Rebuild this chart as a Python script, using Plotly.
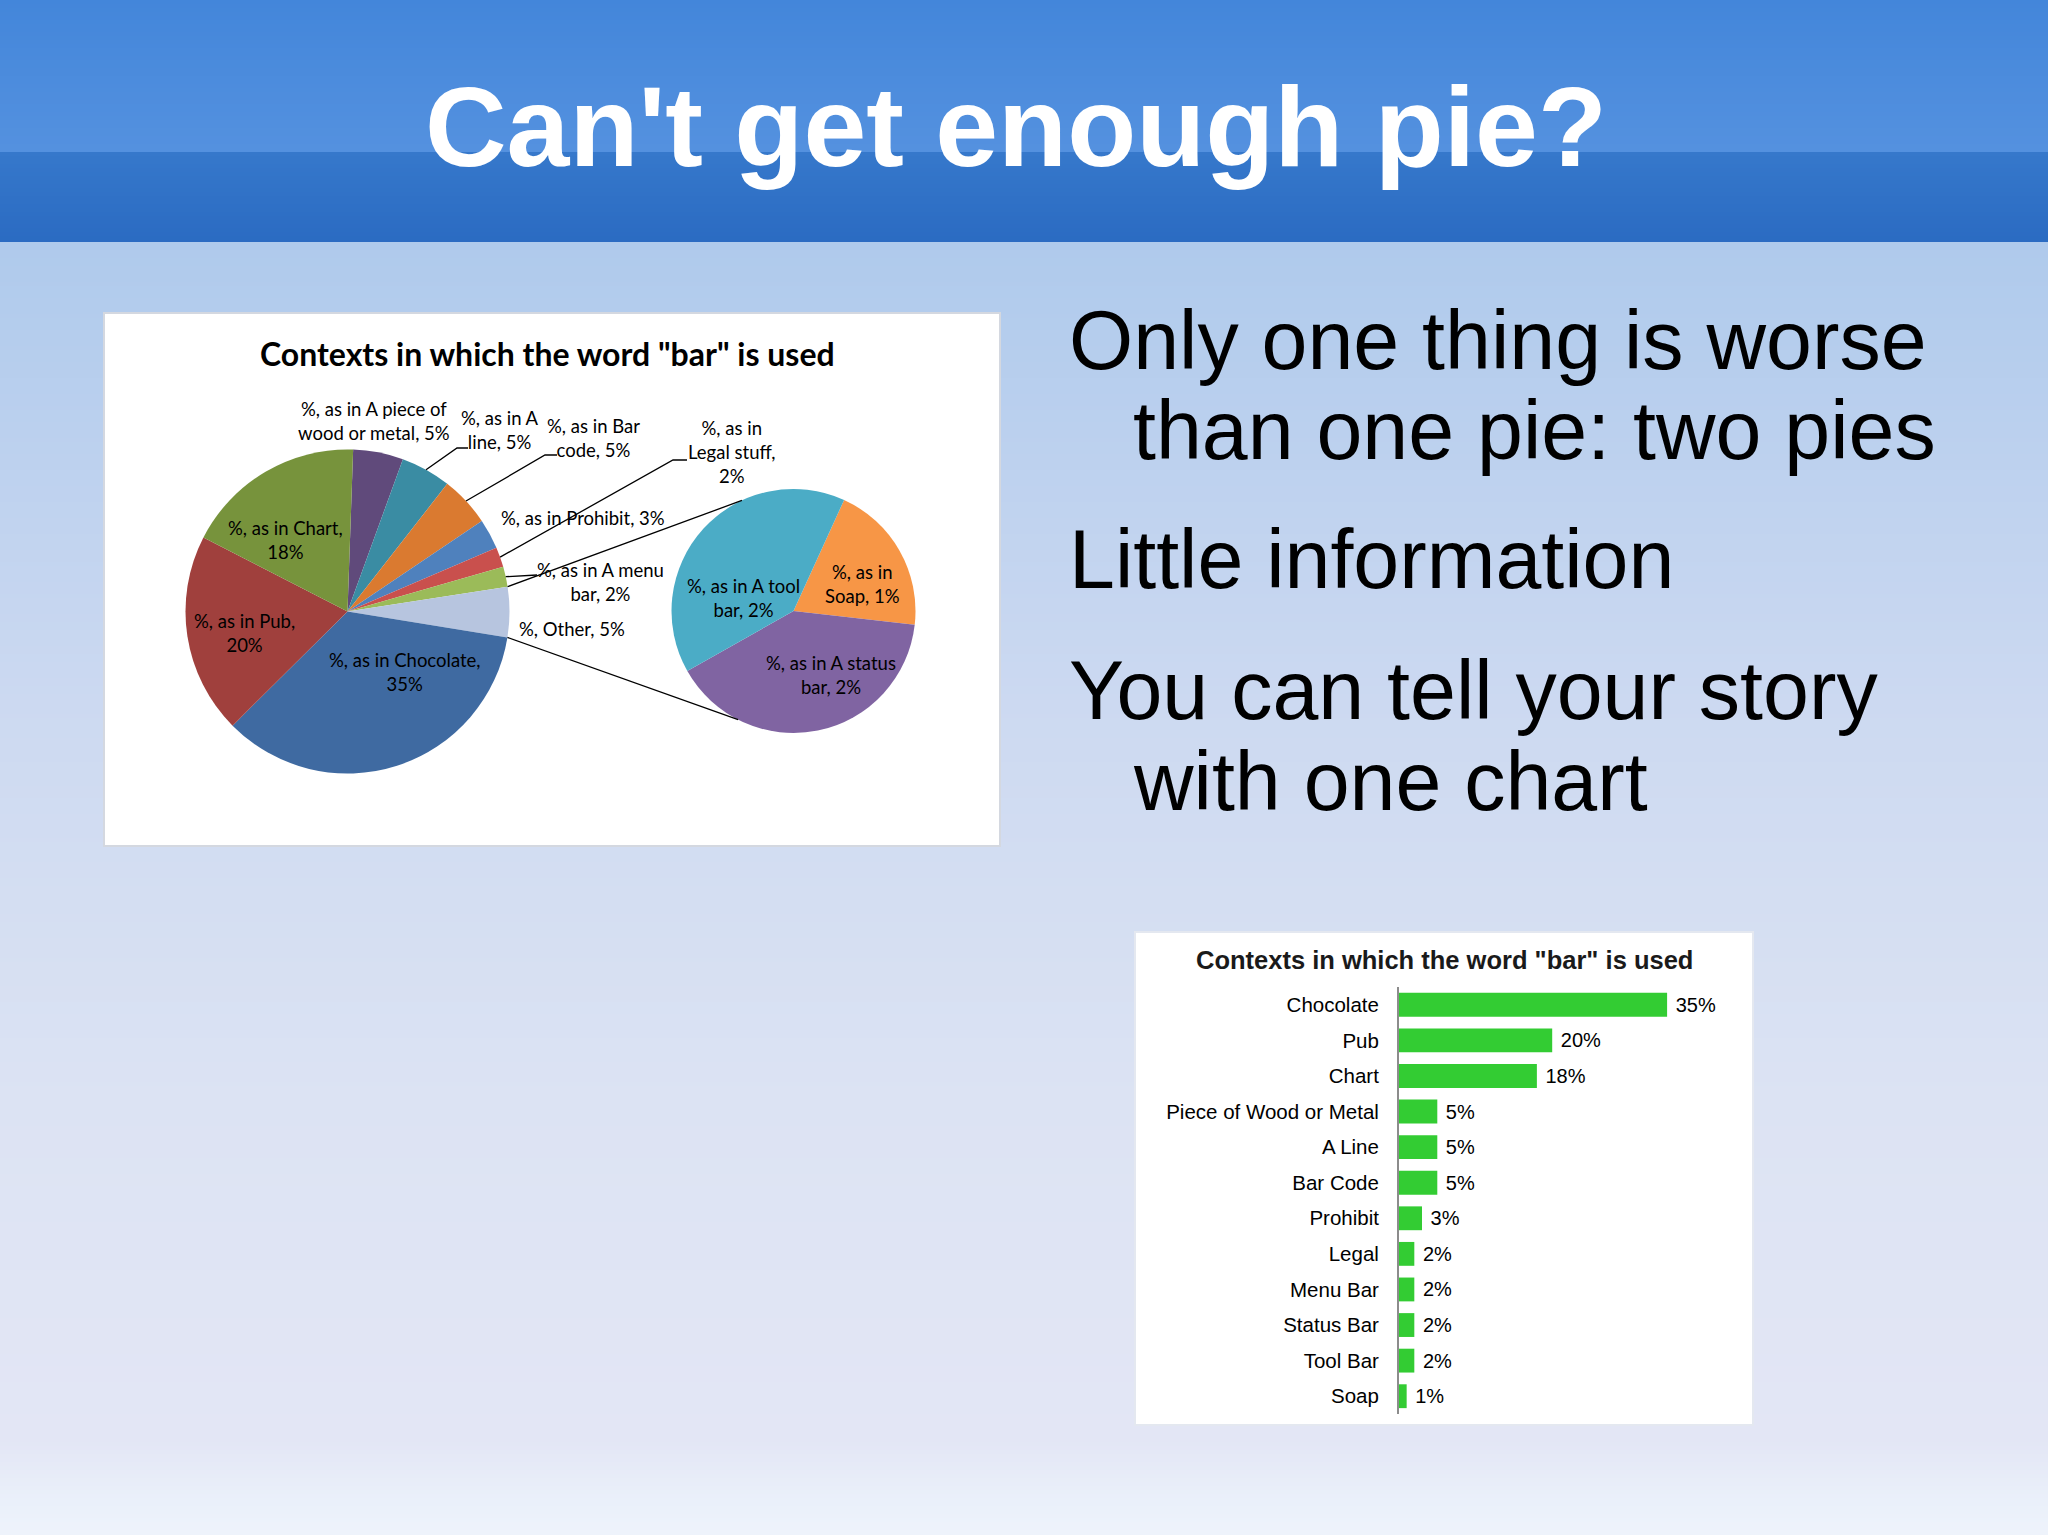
import math

import plotly.graph_objects as go

W, H = 2048, 1535

# ---- data ----
main_labels = ['A piece of wood or metal', 'A line', 'Bar code', 'Prohibit', 'Legal stuff',
               'A menu bar', 'Other', 'Chocolate', 'Pub', 'Chart']
main_values = [5, 5, 5, 3, 2, 2, 5, 35, 20, 18]
main_text = ['%, as in A piece of<br>wood or metal, 5%', '%, as in A<br>line, 5%',
             '%, as in Bar<br>code, 5%', '%, as in Prohibit, 3%', '%, as in<br>Legal stuff,<br>2%',
             '%, as in A menu<br>bar, 2%', '%, Other, 5%', '%, as in Chocolate,<br>35%',
             '%, as in Pub,<br>20%', '%, as in Chart,<br>18%']
main_colors = ['#604A7B', '#3A8CA3', '#DA7A30', '#4F81BD', '#C9504D',
               '#9BBB59', '#B7C5DF', '#3F6AA1', '#A0403D', '#77933C']

sub_labels = ['Soap', 'A status bar', 'A tool bar']
sub_values = [1, 2, 2]
sub_text = ['%, as in<br>Soap, 1%', '%, as in A status<br>bar, 2%', '%, as in A tool<br>bar, 2%']
sub_colors = ['#F79646', '#8064A2', '#4BACC6']

bar_cats = ['Chocolate', 'Pub', 'Chart', 'Piece of Wood or Metal', 'A Line', 'Bar Code',
            'Prohibit', 'Legal', 'Menu Bar', 'Status Bar', 'Tool Bar', 'Soap']
bar_values = [35, 20, 18, 5, 5, 5, 3, 2, 2, 2, 2, 1]

bullets = [('Only one thing is worse', 1067, 340), ('than one pie: two pies', 1131, 430),
           ('Little information', 1067, 559), ('You can tell your story', 1067, 690),
           ('with one chart', 1131, 781)]


def px(x):
    return x / W


def py(y):
    return 1 - y / H


def hex2rgb(h):
    return [int(h[i:i + 2], 16) for i in (1, 3, 5)]


def grad(stops, y):
    for (y0, c0), (y1, c1) in zip(stops[:-1], stops[1:]):
        if y0 <= y <= y1:
            t = (y - y0) / (y1 - y0)
            a, b = hex2rgb(c0), hex2rgb(c1)
            return 'rgb(%d,%d,%d)' % tuple(round(a[i] + (b[i] - a[i]) * t) for i in range(3))
    return stops[-1][1]


shapes = []

# slide background (banded gradient)
bg_stops = [(242, '#AFCAEC'), (700, '#CCD9F1'), (1100, '#DCE3F3'), (1440, '#E3E6F5'),
            (1500, '#EAF0FA'), (1535, '#EEF3FB')]
head_stops = [(0, '#4386DA'), (150, '#5491DF')]
head_stops2 = [(152, '#3678CB'), (242, '#2B6BC2')]
step = 4
for y in range(0, 152, step):
    shapes.append(dict(type='rect', xref='paper', yref='paper', x0=0, x1=1,
                       y0=py(min(y + step, 152)), y1=py(y), line_width=0,
                       fillcolor=grad(head_stops, y + 2), layer='below'))
for y in range(152, 242, step):
    shapes.append(dict(type='rect', xref='paper', yref='paper', x0=0, x1=1,
                       y0=py(min(y + step, 242)), y1=py(y), line_width=0,
                       fillcolor=grad(head_stops2, y + 2), layer='below'))
for y in range(242, H, step):
    shapes.append(dict(type='rect', xref='paper', yref='paper', x0=0, x1=1,
                       y0=py(min(y + step, H)), y1=py(y), line_width=0,
                       fillcolor=grad(bg_stops, y + 2), layer='below'))

# white chart boxes
shapes.append(dict(type='rect', xref='paper', yref='paper', x0=px(104), x1=px(1000),
                   y0=py(846), y1=py(313), fillcolor='white',
                   line=dict(color='#D4D8E0', width=2), layer='below'))
shapes.append(dict(type='rect', xref='paper', yref='paper', x0=px(1135), x1=px(1753),
                   y0=py(1425), y1=py(932), fillcolor='white',
                   line=dict(color='#E4E8F0', width=2), layer='below'))

# pie geometry
cx1, cy1, r1, rot1 = 347.5, 611.5, 162, 2
cx2, cy2, r2, rot2 = 793.5, 611, 122, 24.5


def on_circle(cx, cy, r, ang):
    a = math.radians(ang)
    return cx + r * math.sin(a), cy - r * math.cos(a)


def slice_angles(values, idx, rot):
    tot = float(sum(values))
    start = rot + 360 * sum(values[:idx]) / tot
    return start, start + 360 * values[idx] / tot


fig = go.Figure()

fig.add_trace(go.Pie(
    labels=main_labels, values=main_values, sort=False, direction='clockwise',
    rotation=rot1, textinfo='none', hoverinfo='label+percent',
    marker=dict(colors=main_colors, line=dict(width=0)),
    domain=dict(x=[px(cx1 - r1), px(cx1 + r1)], y=[py(cy1 + r1), py(cy1 - r1)]),
    showlegend=False))

fig.add_trace(go.Pie(
    labels=sub_labels, values=sub_values, sort=False, direction='clockwise',
    rotation=rot2, textinfo='none', hoverinfo='label+percent',
    marker=dict(colors=sub_colors, line=dict(width=0)),
    domain=dict(x=[px(cx2 - r2), px(cx2 + r2)], y=[py(cy2 + r2), py(cy2 - r2)]),
    showlegend=False))

fig.add_trace(go.Bar(
    x=bar_values, y=bar_cats, orientation='h',
    marker=dict(color='#33CC33', line=dict(width=0)),
    text=['\u00a0%d%%' % v for v in bar_values], textposition='outside',
    textfont=dict(family='Liberation Sans, Arial', size=20, color='black'),
    cliponaxis=False, showlegend=False,
    xaxis='x', yaxis='y'))

# leader lines: slice midpoint -> elbow -> label
leaders = {1: [(457, 448), (468, 448)], 2: [(545, 455), (557, 455)],
           4: [(673, 460), (687, 460)], 5: [(537, 575)]}
for idx, pts in leaders.items():
    a0, a1 = slice_angles(main_values, idx, rot1)
    sx, sy = on_circle(cx1, cy1, r1, (a0 + a1) / 2)
    path = 'M %f %f' % (px(sx), py(sy))
    for x, y in pts:
        path += ' L %f %f' % (px(x), py(y))
    shapes.append(dict(type='path', xref='paper', yref='paper', path=path,
                       line=dict(color='black', width=1.3), layer='above'))

# connector lines between the "Other" slice and the second pie
a0, a1 = slice_angles(main_values, main_labels.index('Other'), rot1)
for a_main, a_sub in [(a0, 335), (a1, 207)]:
    x0, y0 = on_circle(cx1, cy1, r1, a_main)
    x1, y1 = on_circle(cx2, cy2, r2, a_sub)
    shapes.append(dict(type='line', xref='paper', yref='paper', x0=px(x0), y0=py(y0),
                       x1=px(x1), y1=py(y1), line=dict(color='black', width=1.3), layer='above'))


def note(text, x, y, font, xanchor='center'):
    return dict(text=text, x=px(x), y=py(y), xref='paper', yref='paper', showarrow=False,
                xanchor=xanchor, yanchor='middle', align='center', font=font)


annotations = []
lab_font = dict(family='Lato, Noto Sans', size=18.5, color='black')
main_pos = [(374, 421), (500, 430), (593, 438), (583, 518), (732, 452),
            (600, 582), (572, 629), (405, 672), (244, 633), (285, 540)]
for t, (x, y) in zip(main_text, main_pos):
    annotations.append(note(t, x, y, lab_font))
sub_pos = [(862, 584), (831, 675), (743, 598)]
for t, (x, y) in zip(sub_text, sub_pos):
    annotations.append(note(t, x, y, lab_font))

# titles
annotations.append(note("<b>Can't get enough pie?</b>", 1016, 127,
                        dict(family='Liberation Sans, Arial', size=113, color='white')))
annotations.append(note('<b>Contexts in which the word "bar" is used</b>', 547, 353,
                        dict(family='Lato, Noto Sans', size=32, color='black')))
annotations.append(note('<b>Contexts in which the word "bar" is used</b>', 1444, 960,
                        dict(family='Liberation Sans, Arial', size=25.5, color='#1a1a1a')))

for t, x, y in bullets:
    annotations.append(note(t, x, y, dict(family='Liberation Sans, Arial', size=82.5,
                                          color='black'), xanchor='left'))

fig.update_layout(
    width=W, height=H,
    margin=dict(l=0, r=0, t=0, b=0),
    paper_bgcolor='#DDE4F3',
    plot_bgcolor='rgba(0,0,0,0)',
    bargap=0.33,
    xaxis=dict(domain=[px(1399), px(1399 + 7.66 * 40)], range=[0, 40], visible=False,
               fixedrange=True),
    yaxis=dict(domain=[py(1414), py(987)], autorange='reversed', showline=True,
               linecolor='#8C8C8C', linewidth=2, ticks='', showgrid=False,
               ticklabelstandoff=14, anchor='x',
               tickfont=dict(family='Liberation Sans, Arial', size=20.5, color='black')),
    shapes=shapes,
    annotations=annotations,
)

fig.write_html('out.html', config={'displayModeBar': False},
               post_script="document.body.style.margin='0px';")
